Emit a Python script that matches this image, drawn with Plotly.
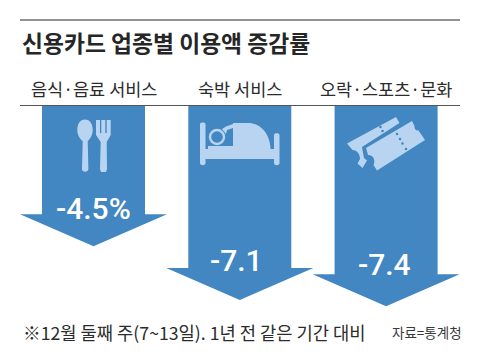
import plotly.graph_objects as go

title = "신용카드 업종별 이용액 증감률"
categories = ["음식·음료 서비스", "숙박 서비스", "오락·스포츠·문화"]
values = [-4.5, -7.1, -7.4]
value_labels = ["-4.5%", "-7.1", "-7.4"]
note = "※12월 둘째 주(7~13일). 1년 전 같은 기간 대비"
source = "자료=통계청"

BLUE = "#4287C2"
LIGHT = "#B9D4F0"
FONT = "Noto Sans CJK KR"
W, H = 480, 360

# axis calibration
PX_X0, PX_DX = 93.5, 146.3
PX_Y0, PX_DY = 153.0, 20.7
SHAFT, HEAD = 51.5 / PX_DX, 73.5 / PX_DX
TOP = (PX_Y0 - 106) / PX_DY
HEAD_H = 32 / PX_DY
LABEL_DY = [1.84, 1.93, 2.0]
LABEL_DX = [0, -3, -2]

fig = go.Figure()
for i, v in enumerate(values):
    neck = v + HEAD_H
    fig.add_trace(go.Scatter(
        x=[i - SHAFT, i + SHAFT, i + SHAFT, i + HEAD, i, i - HEAD, i - SHAFT, i - SHAFT],
        y=[TOP, TOP, neck, neck, v, neck, neck, TOP],
        mode="lines", fill="toself", fillcolor=BLUE, line=dict(width=0),
        hoverinfo="skip", showlegend=False))


def px(x, y):
    return f"{x / W:.5f} {1 - y / H:.5f}"


def path(*segs):
    out = []
    for s in segs:
        out.append(s[0] + " ".join(px(*p) for p in s[1:]))
    return " ".join(out)


def poly(pts):
    return path(("M", pts[0]), *[("L", p) for p in pts[1:]]) + " Z"


def shape(p, color=LIGHT):
    fig.add_shape(type="path", path=p, xref="paper", yref="paper",
                  fillcolor=color, line=dict(width=0), layer="above")


def dot(cx, cy, r, color=BLUE):
    fig.add_shape(type="circle", xref="paper", yref="paper", x0=(cx - r) / W, x1=(cx + r) / W,
                  y0=1 - (cy + r) / H, y1=1 - (cy - r) / H, fillcolor=color, line=dict(width=0), layer="above")


# spoon
shape(path(("M", (85, 119.5)), ("C", (90, 119.5), (92.7, 124), (92.7, 130)), ("C", (92.7, 135), (90, 139), (87.7, 141)),
           ("L", (88.4, 169)), ("C", (88.4, 172.5), (82, 172.5), (82, 169)), ("L", (82.7, 141)),
           ("C", (80, 139), (77.3, 135), (77.3, 130)), ("C", (77.3, 124), (80, 119.5), (85, 119.5))) + " Z")
# fork
shape(poly([(96, 120), (100, 120), (100, 133), (101.3, 133), (101.3, 120), (105.3, 120), (105.3, 133), (106.7, 133),
            (106.7, 120), (110.7, 120), (110.7, 135), (106.7, 142), (107, 169), (106, 172), (101, 172), (100, 169),
            (100.7, 142), (96, 135)]))
# bed frame
shape(path(("M", (200, 124)), ("C", (200, 122), (205.5, 122), (205.5, 124)), ("L", (205.5, 149)), ("L", (274, 149)),
           ("L", (274, 135)), ("C", (274, 132.5), (279.5, 132.5), (279.5, 135)), ("L", (279.5, 163)),
           ("C", (279.5, 166), (274, 166), (274, 163)), ("L", (274, 159)), ("L", (205.5, 159)), ("L", (205.5, 163)),
           ("C", (205.5, 166), (200, 166), (200, 163))) + " Z")
# blanket
shape(path(("M", (233, 123)), ("L", (248, 123)), ("C", (260, 123), (270, 133), (270.5, 149)), ("L", (233, 149))) + " Z")
# sleeper's head
fig.add_shape(type="circle", xref="paper", yref="paper", x0=210 / W, x1=224 / W, y0=1 - 144 / H, y1=1 - 130 / H,
              line=dict(color=LIGHT, width=2.4), fillcolor="rgba(0,0,0,0)", layer="above")
shape(poly([(222, 129), (226, 126.5), (233, 124), (233, 128), (227, 130), (226, 134)]))
shape(poly([(208, 146), (233, 146), (233, 149), (208, 149)]))
# tickets
shape(path(("M", (347, 143.5)), ("L", (396, 117)), ("L", (399.5, 123)), ("L", (362, 147)), ("L", (364, 158)), ("L", (367, 160.5)),
           ("L", (362.5, 168)), ("L", (357.5, 163.5)), ("L", (360, 159)), ("C", (360, 154), (357, 150), (352.5, 150))) + " Z")
shape(path(("M", (366, 148)), ("L", (412, 121)), ("L", (414.5, 126)), ("C", (414, 129), (416, 131), (418.5, 130.5)), ("L", (425, 140)),
           ("L", (377, 170.5)), ("L", (373.5, 165)), ("C", (376, 160), (373, 155), (368, 155))) + " Z")
for cx, cy in [(397, 134), (400, 139), (402.5, 143.5), (406, 149)]:
    dot(cx, cy, 1.3)
dot(380.5, 127, 1.3)
dot(382.5, 131, 1.3)

# rules
fig.add_shape(type="line", xref="paper", yref="paper", x0=20 / W, x1=460 / W, y0=1 - 20 / H, y1=1 - 20 / H,
              line=dict(color="#929292", width=2))
fig.add_shape(type="line", xref="paper", yref="paper", x0=20 / W, x1=460 / W, y0=1 - 105.5 / H, y1=1 - 105.5 / H,
              line=dict(color="#555555", width=1))


def text(s, x, y, size, color="#2b2b2b", anchor="left", bold=False):
    fig.add_annotation(text=f"<b>{s}</b>" if bold else s, xref="paper", yref="paper", x=x / W, y=1 - y / H,
                       xanchor=anchor, yanchor="middle", showarrow=False,
                       font=dict(family=FONT, size=size, color=color))


text(title, 20, 42, 22.8, "#262626", bold=True)
for c, cx in zip(categories, [94, 240, 386]):
    text(c, cx, 88, 17.5, anchor="center")
text(note, 21, 332, 17.7)
text(source, 390, 332, 13.5, "#3a3a3a")

for i, (v, lab, dy, dx) in enumerate(zip(values, value_labels, LABEL_DY, LABEL_DX)):
    fig.add_annotation(text=lab, x=i, y=v + dy, xref="x", yref="y", showarrow=False, xshift=dx,
                       font=dict(family="Roboto", size=30, color="white", weight=500))

fig.update_layout(
    width=W, height=H, margin=dict(l=0, r=0, t=0, b=0), paper_bgcolor="white", plot_bgcolor="white",
    xaxis=dict(range=[-PX_X0 / PX_DX, (W - PX_X0) / PX_DX], visible=False, fixedrange=True),
    yaxis=dict(range=[-(H - PX_Y0) / PX_DY, PX_Y0 / PX_DY], visible=False, fixedrange=True),
)
fig.write_html("out.html", config=dict(displayModeBar=False),
               post_script="document.body.style.margin='0';")
